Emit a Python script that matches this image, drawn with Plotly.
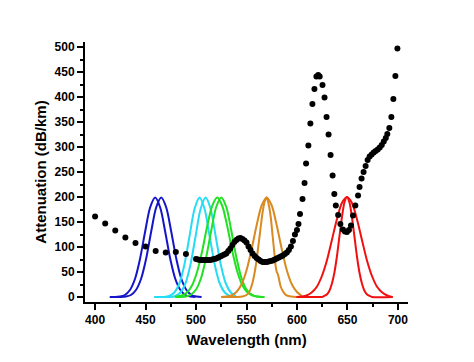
import plotly.graph_objects as go

# ---------------- Attenuation (black dots) ----------------
att_nm = [400, 410, 420, 430, 440, 450, 460, 470, 480, 490,
          500, 502, 504, 506, 508, 510, 512, 514, 516, 518, 520, 522, 524, 526, 528,
          530, 532, 534, 536, 538, 540, 542, 544, 546, 548, 550, 552, 554, 556, 558,
          560, 562, 564, 566, 568, 570, 572, 574, 576, 578, 580, 582, 584, 586, 588,
          590, 592, 594, 596, 598, 600, 601.5, 603, 605.5, 607.5, 609, 611.3, 613.3,
          615.3, 617.3, 619.3, 621, 622.5, 625.3, 627.3, 629.3, 631.3, 633.3, 635.3,
          637, 638.5, 640.8, 643, 645.5, 647.5, 649.5, 651.5, 653.5, 655.5, 657.8,
          660.5, 662, 664, 666, 668, 670, 672, 674, 676, 678, 680, 682, 684, 686, 688,
          689.5, 691.5, 693.5, 695.5, 697.5, 699.5]
att_db = [161, 147, 133, 119, 108, 101, 92, 89, 90, 86,
          76, 75, 74, 74, 74, 74, 74, 74, 75, 76, 77, 79, 81, 83, 85,
          87, 92, 97, 104, 110, 114, 117, 118, 116, 113, 109, 101, 94, 87, 82,
          78, 75, 72, 70, 70, 70, 71, 72, 73, 75, 77, 79, 81, 83, 86,
          89, 94, 101, 112, 125, 134, 146, 166, 196, 228, 267, 303, 347,
          386, 416, 441, 444, 441, 424, 399, 360, 325, 284, 243,
          206, 183, 164, 146, 135, 131, 130, 134, 143, 163, 183,
          203, 220, 237, 250, 262, 274, 281, 285, 289, 292, 295, 299, 304, 311, 318,
          326, 338, 360, 396, 442, 497]

# ---------------- LED spectra (two per colour) ----------------
blue1_x = [414.5, 419.5, 424.5, 429.5, 434.5, 439.5, 444.5, 449.5, 454.5, 459.5,
           464.5, 469.5, 474.5, 479.5, 484.5, 489.5, 494.5, 499.5]
blue1_y = [0, 0, 1, 4, 14, 36, 76, 130, 179, 199, 179, 130, 76, 36, 14, 4, 1, 0]
blue2_x = [420.5, 425.5, 430.5, 435.5, 440.5, 445.5, 450.5, 455.5, 460.5, 465.5,
           470.5, 475.5, 480.5, 485.5, 490.5, 495.5, 500.5, 505.5]
blue2_y = [0, 0, 1, 4, 14, 36, 76, 130, 179, 199, 179, 130, 76, 36, 14, 4, 1, 0]

cyan1_x = [458.5, 463.5, 468.5, 473.5, 478.5, 483.5, 488.5, 493.5, 498.5, 503.5,
           508.5, 513.5, 518.5, 523.5, 528.5, 533.5]
cyan1_y = [0, 0, 0, 2, 9, 27, 65, 121, 176, 199, 176, 121, 65, 27, 9, 2]
cyan2_x = [464.5, 469.5, 474.5, 479.5, 484.5, 489.5, 494.5, 499.5, 504.5, 509.5,
           514.5, 519.5, 524.5, 529.5, 534.5, 539.5]
cyan2_y = [0, 0, 0, 2, 9, 27, 65, 121, 176, 199, 176, 121, 65, 27, 9, 2]

green1_x = [479, 481, 486, 491, 496, 501, 506, 511, 516, 521, 526, 531, 536, 541,
            546, 551, 556, 561, 566]
green1_y = [0, 1, 3, 9, 23, 50, 91, 141, 182, 199, 182, 141, 91, 50, 23, 9, 3, 1, 0]
green2_x = [480, 485, 490, 495, 500, 505, 510, 515, 520, 525, 530, 535, 540, 545,
            550, 555, 560, 565, 568]
green2_y = [0, 0, 1, 5, 15, 38, 79, 132, 180, 199, 180, 132, 79, 38, 15, 5, 1, 0, 0]

orange1_x = [525, 530, 535, 540, 545, 550, 555, 560, 565, 570, 575, 580, 585, 590,
             595, 600, 605]
orange1_y = [0, 1, 3, 10, 25, 53, 95, 143, 183, 199, 183, 143, 95, 53, 25, 10, 2]
orange2_x = [525, 546, 550, 552, 554, 556, 558, 560, 562, 564, 566, 568, 570, 572,
             574, 576, 577, 578, 579, 580, 581, 582, 583, 584, 586, 588, 590, 594, 600]
orange2_y = [0, 1, 4, 8, 16, 29, 48, 74, 106, 139, 170, 191, 199, 185,
             160, 120, 100, 80, 60, 50, 46, 38, 28, 20, 12, 6, 3, 1, 0]

red1_x = [600, 620, 624.5, 627, 629.5, 632, 634.5, 637, 639.5, 642, 644.5, 647,
          649.5, 652, 654.5, 657, 659.5, 662, 664.5, 667, 669.5, 672, 674.5, 695]
red1_y = [0, 0, 0, 2, 5, 12, 26, 48, 80, 120, 159, 189, 200, 189, 159, 120, 80,
          48, 26, 12, 5, 2, 0, 0]
red2_x = [599.5, 604.5, 609.5, 614.5, 619.5, 624.5, 629.5, 634.5, 639.5, 644.5,
          649.5, 654.5, 659.5, 664.5, 669.5, 674.5, 679.5, 684.5, 689.5, 694.5]
red2_y = [0, 1, 3, 9, 20, 41, 72, 113, 155, 188, 200, 188, 155, 113, 72, 41, 20,
          9, 3, 0]

BLUE = "#1414C8"
CYAN = "#26DCF4"
GREEN = "#22E022"
ORANGE = "#D98A20"
RED = "#F01010"

curves = [
    (blue1_x, blue1_y, BLUE), (blue2_x, blue2_y, BLUE),
    (cyan1_x, cyan1_y, CYAN), (cyan2_x, cyan2_y, CYAN),
    (green1_x, green1_y, GREEN), (green2_x, green2_y, GREEN),
    (orange1_x, orange1_y, ORANGE), (orange2_x, orange2_y, ORANGE),
    (red1_x, red1_y, RED), (red2_x, red2_y, RED),
]

fig = go.Figure()
for xs, ys, col in curves:
    fig.add_trace(go.Scatter(x=xs, y=ys, mode="lines",
                             line=dict(color=col, width=2, shape="spline", smoothing=0.8),
                             showlegend=False, hoverinfo="skip"))

fig.add_trace(go.Scatter(x=att_nm, y=att_db, mode="markers",
                         marker=dict(color="black", size=6),
                         showlegend=False))

FONT = "Liberation Sans, Arial, sans-serif"
axis_common = dict(
    showline=True, linecolor="black", linewidth=2,
    ticks="outside", ticklen=6, tickwidth=2, tickcolor="black",
    showgrid=False, zeroline=False, automargin=False,
    tickfont=dict(family=FONT, size=12, color="black", weight="bold"),
)

# page body has an 8px margin, so the figure is sized to end at the window edge
fig.update_layout(
    width=466, height=354,
    margin=dict(l=77, r=66, t=34, b=60),
    plot_bgcolor="white", paper_bgcolor="white",
    xaxis=dict(range=[390, 710], tick0=400, dtick=50,
               minor=dict(dtick=25, ticklen=3, tickwidth=2, tickcolor="black", ticks="outside"),
               title=dict(text="Wavelength (nm)", standoff=8,
                          font=dict(family=FONT, size=15, color="black", weight="bold")),
               **axis_common),
    yaxis=dict(range=[-10, 510], tick0=0, dtick=50,
               minor=dict(dtick=25, ticklen=3, tickwidth=2, tickcolor="black", ticks="outside"),
               title=dict(text="Attenuation (dB/km)", standoff=4,
                          font=dict(family=FONT, size=15, color="black", weight="bold")),
               **axis_common),
)

fig.write_html("out.html")
